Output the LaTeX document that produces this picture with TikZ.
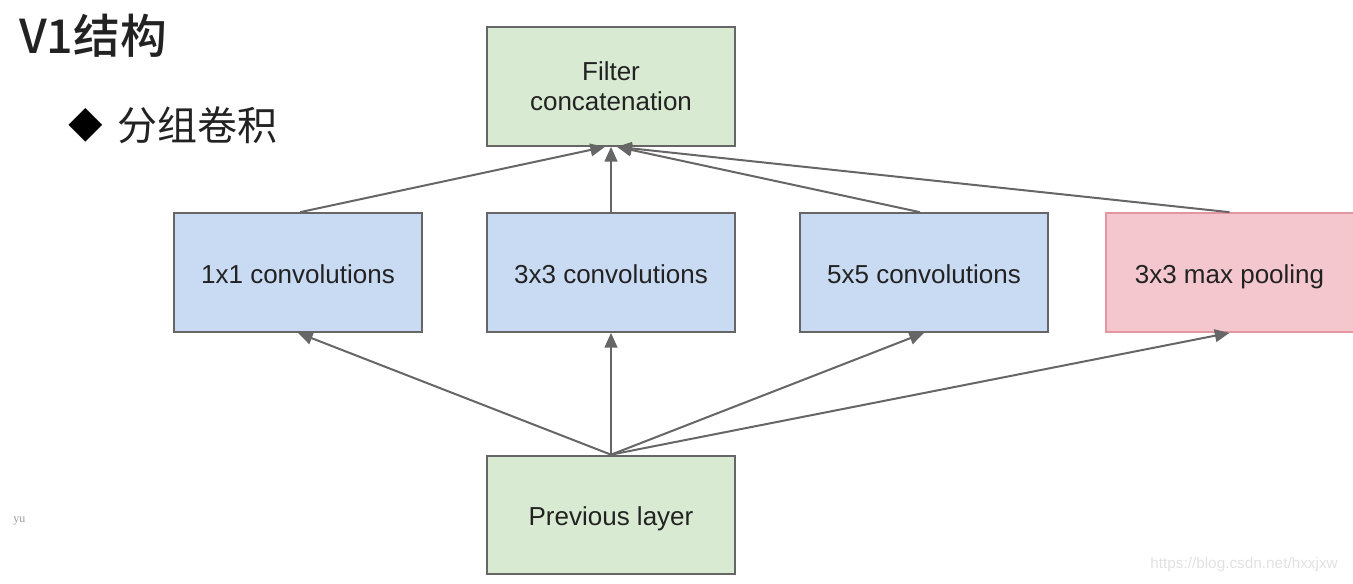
\documentclass[tikz,border=0pt]{standalone}
\usepackage{fontspec}
\setmainfont{Liberation Sans}
\newfontfamily\cjk{Noto Sans CJK SC}
\newfontfamily\cjkb{Noto Sans CJK SC Medium}
\newfontfamily\serifsmall{Liberation Serif}
\usetikzlibrary{arrows.meta}
\definecolor{boxgreen}{RGB}{217,234,211}
\definecolor{boxblue}{RGB}{201,218,243}
\definecolor{boxpink}{RGB}{244,199,207}
\definecolor{pinkborder}{RGB}{226,150,160}
\definecolor{edgegray}{RGB}{102,102,102}
\definecolor{txt}{RGB}{34,34,34}
\definecolor{wm}{RGB}{225,225,225}
\begin{document}
\begin{tikzpicture}[x=0.75pt,y=-0.75pt,
  box/.style={draw=edgegray,line width=1.5pt,minimum width=186pt,minimum height=89pt,inner sep=0pt,
    font=\fontsize{19.5}{22.5}\selectfont,text=txt,align=center},
  oneline/.style={text height=15.8pt,text depth=0pt},
  greenbox/.style={box,fill=boxgreen},
  bluebox/.style={box,fill=boxblue,oneline},
  pinkbox/.style={box,fill=boxpink,draw=pinkborder,oneline},
  conn/.style={draw=edgegray,line width=1.5pt,-{Triangle[length=11pt,width=9.5pt]}}]
\useasboundingbox (0,0) rectangle (1353,583);
\node[anchor=west,inner sep=0pt,text=txt] (title) at (19,36) {\cjkb\fontsize{35}{38}\selectfont V1结构};
\node[anchor=west,inner sep=0pt] (bullet) at (68,125) {\cjk\fontsize{26}{30}\selectfont ◆};
\node[anchor=west,inner sep=0pt,text=txt] (sub) at (117,125) {\cjk\fontsize{30}{34}\selectfont 分组卷积};
\node[greenbox] (filter) at (611,86.5) {Filter\\concatenation};
\node[bluebox] (c1) at (298,272.5) {1x1 convolutions};
\node[bluebox] (c3) at (611,272.5) {3x3 convolutions};
\node[bluebox] (c5) at (924,272.5) {5x5 convolutions};
\node[pinkbox] (pool) at (1229.5,272.5) {3x3 max pooling};
\node[greenbox,oneline] (prev) at (611,515) {Previous layer};
\node[anchor=west,inner sep=0pt,text=black!40] (yu) at (13,521) {\serifsmall\fontsize{9}{10}\selectfont yu};
\node[anchor=west,inner sep=0pt,text=wm] (url) at (1150,565) {\fontsize{11.5}{13}\selectfont https://blog.csdn.net/hxxjxw};
\coordinate (fc) at (filter.south);
\coordinate (fl) at ([xshift=-4.5pt]filter.south);
\coordinate (fr) at ([xshift=4.5pt]filter.south);
\draw[conn] (prev.north) -- (c1.south);
\draw[conn] (prev.north) -- (c3.south);
\draw[conn] (prev.north) -- (c5.south);
\draw[conn] (prev.north) -- (pool.south);
\draw[conn] ([xshift=1.5pt]c1.north) -- (fl);
\draw[conn] (c3.north) -- (fc);
\draw[conn] ([xshift=-3pt]c5.north) -- (fr);
\draw[conn] (pool.north) -- (fr);
\end{tikzpicture}
\end{document}
